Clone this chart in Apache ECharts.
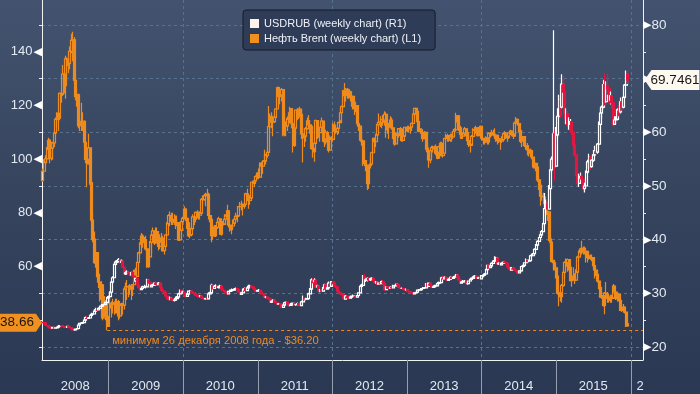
<!DOCTYPE html>
<html><head><meta charset="utf-8">
<script src="https://cdn.jsdelivr.net/npm/echarts@6/dist/echarts.min.js"></script>
<style>html,body{margin:0;padding:0;background:#34425e;}#c{width:700px;height:394px;}</style>
</head><body><div id="c"></div>
<script>
// ---- DATA: weekly candles, each row [close, high, low]; weeks start Fri 2008-02-15 ----
const brentName = 'Нефть Brent (weekly chart) (L1)';
const rubName = 'USDRUB (weekly chart) (R1)';
const brentOpen0 = 92.0;
const rubOpen0 = 24.6;
const brent2008 = [[95.5,96.5,91.5],[98.8,100.0,94.5],[100.1,101.5,97.8],[103.6,104.5,98.5],[107.0,108.0,102.5],[100.4,107.5,98.5],[104.1,106.5,99.5],[106.1,106.5,99.8],[109.8,110.5,104.5],[114.8,115.5,109.0],[117.1,117.5,112.0],[115.3,117.0,110.5],[124.5,124.8,114.5],[124.1,126.0,121.0],[131.7,135.1,123.5],[127.4,132.5,124.5],[137.4,138.5,122.5],[134.9,138.0,131.0],[135.7,137.5,132.0],[140.2,142.0,133.5],[144.3,146.7,139.5],[144.5,147.5,136.5],[129.4,145.5,128.0],[123.3,131.5,122.0],[124.0,126.5,119.5],[112.5,124.5,111.5],[113.8,115.5,110.5],[114.1,121.0,110.5],[114.1,117.5,110.5],[106.3,114.5,104.5],[99.9,106.5,98.5],[98.3,100.5,89.5],[104.2,109.5,98.0],[91.3,103.5,90.5],[77.3,91.0,76.5],[70.2,80.5,69.0],[61.4,73.0,61.0],[65.2,68.5,59.5],[57.1,65.0,56.0],[54.2,59.0,52.0],[47.9,54.5,47.0],[53.2,54.5,47.5],[40.8,53.0,40.0],[46.2,49.0,40.5],[41.4,47.5,40.0],[37.7,42.5,36.2]];
const brent2009 = [[46.3,47.0,37.5],[44.7,50.5,43.5],[46.1,47.0,41.0],[46.5,48.0,42.5],[45.9,47.0,42.0],[46.6,48.0,42.5],[46.9,48.0,42.5],[41.6,47.5,40.0],[46.0,46.5,40.5],[45.5,46.5,41.5],[45.6,46.5,42.0],[51.6,52.0,44.0],[52.4,54.0,50.5],[52.5,55.0,47.5],[52.5,53.0,48.5],[52.7,53.5,49.5],[51.6,53.5,47.5],[53.2,53.5,49.0],[58.6,58.8,53.0],[56.3,59.5,55.0],[61.5,61.8,56.0],[65.1,65.5,59.5],[68.4,69.0,64.0],[71.3,72.5,67.5],[69.0,72.0,67.0],[70.0,71.0,67.0],[66.6,71.5,66.0],[59.9,66.5,59.5],[63.6,64.5,59.5],[69.0,69.5,63.5],[71.7,72.0,65.0],[73.3,74.5,70.5],[68.8,73.5,68.0],[73.0,74.5,68.5],[71.8,74.5,70.5],[67.5,71.5,66.0],[69.2,71.5,66.5],[70.6,72.5,68.0],[65.9,71.5,65.5],[67.5,68.5,64.5],[71.8,72.0,66.0],[76.0,76.5,71.0],[79.0,79.5,75.5],[77.0,80.5,75.0],[77.4,80.0,75.5],[76.4,80.0,75.5],[77.5,79.5,75.5],[76.1,79.0,74.0],[76.4,79.0,75.0],[69.9,76.5,69.5],[73.5,75.0,69.5],[76.7,77.5,73.0]];
const brent2010 = [[77.9,78.5,76.0],[81.4,82.5,77.5],[77.9,81.5,77.0],[74.5,78.5,74.0],[71.5,75.5,71.0],[71.9,76.5,70.5],[74.1,75.0,71.5],[78.5,79.5,73.5],[77.6,79.0,75.5],[80.2,80.5,76.5],[79.0,81.0,78.0],[79.1,80.5,77.5],[79.9,80.5,77.5],[85.0,85.5,80.0],[84.9,86.5,83.0],[86.4,87.0,84.5],[86.9,87.5,82.5],[86.9,89.0,85.0],[79.0,87.5,77.5],[77.6,81.5,76.5],[71.5,77.5,69.0],[74.7,76.0,70.0],[71.5,75.5,71.0],[74.6,75.5,71.0],[76.5,78.0,74.0],[77.8,78.5,75.0],[72.1,78.0,72.0],[75.5,76.0,71.5],[75.9,77.0,74.5],[77.6,79.5,75.5],[78.8,79.5,75.5],[80.7,83.0,78.0],[75.4,81.0,74.5],[73.7,77.5,73.0],[75.1,75.5,72.0],[76.2,77.5,74.0],[77.6,78.5,75.5],[78.7,80.0,76.5],[78.9,79.5,76.5],[82.3,82.5,78.5],[83.2,84.0,80.5],[83.2,84.5,81.0],[82.5,83.5,79.0],[83.2,84.0,81.5],[87.1,87.5,83.0],[86.3,89.0,85.5],[84.6,86.5,81.5],[85.6,86.5,83.0],[91.4,91.5,85.0],[91.0,92.0,89.5],[91.9,92.5,89.5],[93.5,94.0,91.5],[94.8,95.0,92.5]];
const brent2011 = [[93.3,96.5,92.5],[98.4,98.8,93.0],[97.4,99.0,96.0],[99.4,99.5,94.5],[99.3,103.5,99.0],[101.4,102.0,98.0],[102.5,104.0,100.5],[112.1,119.8,102.5],[116.0,117.0,110.5],[113.8,117.5,111.5],[114.0,116.0,108.5],[115.6,117.0,113.5],[118.7,119.0,115.5],[126.7,127.0,118.5],[123.4,127.0,119.5],[123.9,124.5,120.5],[125.9,126.5,121.5],[109.1,126.0,108.5],[113.8,117.5,108.5],[112.4,114.0,108.5],[115.1,116.0,110.5],[114.8,117.5,113.0],[118.8,119.5,113.5],[113.2,119.0,111.5],[105.1,114.0,102.5],[111.6,112.0,104.5],[118.3,118.5,111.0],[117.2,119.0,114.5],[118.7,119.0,115.0],[116.7,119.5,115.5],[109.4,118.5,107.5],[108.0,110.5,98.8],[108.6,111.5,104.5],[111.4,112.0,106.5],[114.3,115.5,111.0],[112.8,116.5,111.5],[112.2,114.5,109.5],[104.0,112.5,103.5],[102.8,106.5,100.5],[105.9,106.5,99.0],[114.4,114.8,105.5],[110.0,114.5,107.5],[109.9,112.5,108.0],[111.9,112.0,106.5],[114.2,115.5,110.5],[107.6,114.0,106.5],[106.4,108.5,104.5],[109.9,111.0,105.5],[108.6,110.5,106.5],[103.4,109.0,102.5],[107.9,108.5,103.5],[107.4,108.5,106.0]];
const brent2012 = [[112.7,113.5,106.5],[110.4,114.0,109.5],[110.3,112.0,109.5],[111.5,111.8,109.0],[113.6,114.0,109.5],[117.3,119.0,114.5],[119.6,120.0,117.0],[125.5,125.8,119.5],[123.7,128.4,121.5],[126.0,126.5,121.5],[125.8,126.5,122.5],[125.1,126.0,122.5],[122.9,125.5,121.5],[123.4,124.0,119.5],[121.2,121.8,118.5],[118.8,121.0,116.5],[120.0,120.5,117.5],[113.2,120.0,112.5],[112.3,114.0,110.5],[107.1,112.5,106.5],[106.8,109.5,105.0],[98.4,107.0,97.5],[99.5,102.0,97.5],[97.6,99.0,95.5],[90.9,97.5,88.5],[97.8,98.0,89.0],[98.2,101.0,96.5],[102.4,102.8,97.5],[107.8,108.0,102.5],[106.5,108.0,102.5],[109.0,109.5,104.5],[112.9,113.5,109.0],[113.7,117.0,112.5],[113.6,116.0,112.0],[114.6,115.0,111.5],[113.8,116.5,112.5],[116.7,117.9,112.5],[111.0,117.5,108.0],[112.4,113.0,109.5],[112.0,113.5,107.5],[114.6,116.0,111.5],[111.7,115.5,111.0],[109.6,112.0,107.5],[105.7,110.0,105.0],[109.4,110.0,105.5],[108.9,110.5,106.5],[111.4,111.5,108.0],[111.2,112.0,109.5],[107.0,111.5,106.5],[108.6,109.5,106.5],[111.9,112.0,108.5],[110.6,112.0,110.0]];
const brent2013 = [[111.3,112.5,110.0],[111.6,112.5,110.0],[111.9,112.5,109.5],[113.3,113.8,110.5],[116.8,117.0,112.5],[118.9,119.2,115.5],[117.7,119.0,116.5],[114.0,118.5,113.5],[110.4,114.5,110.0],[110.9,111.5,109.5],[109.8,111.5,107.5],[107.6,110.5,106.5],[110.0,110.5,107.5],[104.1,110.0,103.5],[102.8,106.0,102.5],[99.7,103.0,96.8],[103.2,103.5,98.5],[104.2,105.0,100.5],[103.9,105.0,102.5],[104.6,105.0,102.0],[102.6,105.5,101.5],[100.4,103.0,100.0],[104.6,105.0,100.5],[105.9,106.5,102.5],[101.3,106.5,101.0],[102.2,103.0,100.5],[107.7,108.0,102.0],[108.8,109.5,107.0],[108.1,109.5,106.5],[107.2,108.5,106.5],[108.9,109.5,106.5],[108.3,109.5,106.5],[110.4,110.5,107.5],[111.0,111.5,108.5],[114.0,117.3,110.5],[116.1,116.5,113.0],[111.7,115.5,110.5],[109.2,112.5,107.5],[108.6,109.5,107.5],[109.5,110.0,107.5],[111.3,112.0,108.5],[109.9,111.5,108.5],[106.9,110.0,106.5],[105.5,109.0,104.5],[105.1,106.5,102.5],[108.5,109.0,105.0],[111.0,111.5,107.5],[110.8,112.0,109.5],[111.6,112.5,109.5],[108.8,112.0,108.5],[111.8,112.0,108.5],[112.2,112.5,110.5]];
const brent2014 = [[107.8,112.5,107.0],[107.2,108.0,105.5],[106.5,107.5,105.5],[107.9,108.5,106.0],[106.4,108.0,105.5],[109.6,110.0,105.5],[109.1,110.0,108.0],[109.9,111.0,108.5],[109.1,111.0,108.5],[108.8,111.5,107.5],[108.9,109.5,106.5],[106.9,108.5,105.5],[107.6,108.5,106.0],[106.7,107.5,103.5],[107.3,108.5,106.0],[109.5,110.0,106.5],[109.6,110.5,108.0],[108.6,110.0,107.5],[108.0,108.5,106.5],[109.8,110.0,107.5],[110.5,111.0,109.0],[109.4,110.5,108.5],[108.6,109.5,107.5],[113.4,114.0,108.5],[114.8,115.7,112.5],[113.3,115.0,112.5],[110.6,113.5,110.0],[106.7,110.5,106.0],[107.2,108.5,104.5],[108.4,108.5,106.5],[105.0,108.5,104.5],[105.0,106.5,103.5],[103.5,106.0,101.5],[102.3,103.5,101.0],[103.2,104.0,101.5],[100.8,103.5,100.0],[97.1,101.0,96.5],[98.4,99.5,96.5],[97.0,98.5,95.5],[92.3,97.5,91.5],[90.2,93.5,88.5],[86.2,91.0,82.6],[86.1,87.5,84.5],[85.9,87.5,84.0],[83.4,86.0,82.0],[79.4,83.5,77.5],[80.4,81.0,77.0],[70.2,80.5,69.5],[69.1,71.5,67.5],[61.9,69.5,61.5],[61.4,62.5,58.5],[59.5,62.5,58.5]];
const brent2015 = [[56.4,60.5,55.5],[50.1,56.5,49.5],[50.2,51.0,45.2],[48.8,50.5,47.0],[53.0,53.5,46.5],[57.8,59.0,52.5],[61.5,62.0,55.5],[60.2,63.0,58.5],[62.6,63.0,58.0],[59.7,62.5,58.5],[54.7,60.5,54.5],[55.3,56.5,52.5],[56.4,59.7,55.0],[54.9,57.5,53.5],[57.9,59.0,54.5],[63.5,64.0,57.0],[65.3,66.0,62.0],[66.5,67.0,64.5],[65.4,69.6,64.5],[66.8,67.5,64.5],[65.4,67.5,64.5],[65.6,66.0,61.5],[63.3,65.5,61.5],[63.9,65.5,62.5],[63.0,64.5,62.5],[63.3,64.5,62.0],[60.3,63.5,59.5],[58.7,60.5,55.5],[57.1,59.5,56.5],[54.6,57.0,54.0],[52.2,55.0,51.5],[48.6,52.5,48.5],[49.2,50.5,48.0],[45.5,49.5,45.0],[50.1,50.5,42.2],[49.6,54.2,48.5],[48.1,50.5,46.5],[47.5,49.5,46.5],[48.6,49.5,46.5],[48.1,49.5,46.5],[52.7,53.5,48.5],[50.5,52.5,48.5],[48.0,50.5,47.5],[49.6,50.0,47.0],[47.4,50.0,47.0],[43.6,47.5,43.5],[44.7,45.5,43.0],[44.9,46.0,44.5],[43.0,45.0,42.5],[37.9,43.5,37.5],[38.66,39.5,37.6]];

const rub2008 = [[24.55,24.65,24.45],[24.50,24.60,24.40],[24.05,24.50,24.00],[24.00,24.15,23.90],[23.75,24.05,23.65],[23.55,23.80,23.50],[23.50,23.65,23.40],[23.65,23.75,23.45],[23.50,23.70,23.40],[23.55,23.65,23.40],[23.70,23.80,23.50],[23.85,23.95,23.65],[24.00,24.10,23.80],[23.95,24.10,23.85],[23.80,24.00,23.70],[23.70,23.85,23.60],[23.65,23.80,23.55],[23.85,23.95,23.60],[23.70,23.90,23.60],[23.60,23.75,23.50],[23.45,23.65,23.40],[23.20,23.50,23.15],[23.20,23.35,23.10],[23.35,23.45,23.15],[23.45,23.55,23.30],[24.10,24.20,23.40],[24.40,24.50,24.00],[24.45,24.60,24.30],[24.55,24.70,24.40],[25.00,25.10,24.50],[25.50,25.70,24.90],[25.35,25.85,25.20],[25.40,25.60,25.20],[25.90,26.00,25.40],[26.10,26.40,25.80],[26.15,26.30,25.90],[26.70,26.90,26.10],[26.95,27.30,26.60],[26.90,27.10,26.70],[27.20,27.40,26.90],[27.60,27.75,27.20],[27.60,27.85,27.50],[27.90,28.00,27.60],[27.95,28.10,27.80],[28.30,28.45,27.90],[29.15,29.30,28.30]];
const rub2009 = [[29.40,29.60,29.10],[30.20,30.40,29.40],[32.10,32.30,30.30],[32.90,33.20,32.00],[35.40,35.60,32.90],[35.80,36.10,35.20],[35.90,36.20,35.40],[36.30,36.60,35.80],[35.75,36.40,35.50],[36.00,36.30,35.60],[34.90,36.00,34.70],[33.60,34.90,33.50],[33.80,34.10,33.40],[33.90,34.30,33.50],[33.80,34.10,33.50],[33.40,33.90,33.20],[33.85,34.00,33.30],[33.20,33.90,33.10],[32.30,33.30,32.20],[32.80,32.90,32.10],[31.60,32.90,31.50],[31.10,31.70,30.90],[30.70,31.20,30.50],[30.90,31.10,30.60],[31.20,31.40,30.80],[31.20,31.60,31.00],[31.20,31.40,30.90],[32.50,32.70,31.20],[32.10,32.60,31.80],[31.20,32.10,31.10],[31.50,31.70,31.10],[31.50,31.80,31.20],[31.90,32.10,31.40],[31.70,32.20,31.50],[31.60,31.90,31.40],[31.90,32.10,31.50],[31.10,31.90,31.00],[30.60,31.10,30.40],[30.40,30.70,30.20],[30.15,30.50,29.90],[29.50,30.20,29.30],[29.10,29.50,28.90],[28.85,29.20,28.70],[29.10,29.40,28.70],[28.80,29.20,28.60],[28.70,28.90,28.50],[28.75,28.90,28.50],[29.00,29.40,28.60],[29.30,29.50,29.00],[29.90,30.10,29.30],[30.50,30.70,29.90],[30.20,30.70,30.10]];
const rub2010 = [[30.25,30.50,29.90],[29.55,30.30,29.40],[29.45,29.70,29.20],[29.85,30.00,29.40],[30.40,30.50,29.80],[30.40,30.60,30.10],[30.20,30.50,30.00],[30.10,30.40,29.90],[29.95,30.20,29.80],[29.65,30.00,29.50],[29.45,29.70,29.30],[29.40,29.60,29.20],[29.45,29.70,29.30],[29.20,29.50,29.10],[29.05,29.30,28.90],[28.95,29.20,28.80],[29.00,29.20,28.80],[28.95,29.20,28.80],[29.90,30.20,28.90],[30.10,30.30,29.60],[31.50,31.80,30.20],[30.90,31.60,30.70],[31.30,31.50,30.80],[31.40,31.70,31.10],[31.10,31.40,30.90],[31.20,31.40,30.90],[31.30,31.60,30.90],[30.80,31.30,30.70],[30.55,30.90,30.40],[30.35,30.60,30.20],[30.20,30.50,30.00],[29.90,30.30,29.80],[30.35,30.50,29.80],[30.50,30.70,30.20],[30.60,30.90,30.40],[30.60,30.80,30.40],[30.80,30.90,30.50],[30.90,31.10,30.70],[30.70,31.00,30.50],[30.20,30.70,30.10],[29.80,30.30,29.70],[30.10,30.30,29.70],[30.70,30.90,30.00],[30.90,31.10,30.60],[30.50,31.00,30.40],[31.00,31.20,30.40],[31.30,31.60,30.90],[31.30,31.60,31.10],[31.20,31.50,31.00],[30.90,31.30,30.80],[30.65,31.00,30.50],[30.40,30.70,30.30],[30.50,30.60,30.30]];
const rub2011 = [[30.55,30.80,30.30],[30.20,30.60,30.10],[29.90,30.20,29.80],[29.85,30.00,29.70],[29.30,29.90,29.20],[29.30,29.50,29.10],[29.10,29.40,29.00],[28.95,29.20,28.80],[28.35,28.90,28.20],[28.50,28.70,28.20],[28.70,28.90,28.40],[28.45,28.70,28.30],[28.25,28.50,28.10],[28.00,28.30,27.90],[28.05,28.20,27.90],[27.95,28.10,27.80],[27.40,28.00,27.30],[27.80,27.90,27.30],[28.25,28.40,27.70],[28.30,28.50,28.10],[28.10,28.40,28.00],[27.75,28.10,27.60],[27.80,27.90,27.60],[28.10,28.30,27.80],[28.15,28.30,28.00],[27.90,28.20,27.80],[27.90,28.00,27.70],[28.10,28.30,27.90],[27.95,28.20,27.80],[27.70,28.00,27.60],[28.40,28.60,27.70],[29.00,29.60,28.40],[28.90,29.20,28.70],[28.90,29.20,28.70],[29.00,29.20,28.80],[29.90,30.10,29.00],[30.80,31.00,29.90],[32.50,32.80,30.70],[32.20,32.80,31.90],[32.40,32.80,32.00],[31.20,32.40,31.00],[31.40,31.60,31.00],[30.40,31.50,30.30],[30.50,30.80,30.20],[30.40,30.80,30.20],[31.00,31.20,30.40],[31.60,31.80,30.90],[30.80,31.60,30.70],[31.00,31.30,30.70],[31.90,32.20,31.00],[31.30,32.00,31.20],[32.20,32.30,31.20]];
const rub2012 = [[31.90,32.30,31.70],[31.40,32.00,31.20],[31.20,31.50,31.00],[30.40,31.30,30.30],[30.10,30.50,29.90],[29.90,30.20,29.70],[29.80,30.10,29.60],[29.20,29.90,29.00],[28.90,29.30,28.80],[29.50,29.70,28.90],[29.20,29.60,29.10],[29.10,29.30,28.90],[29.30,29.50,29.00],[29.50,29.60,29.10],[29.50,29.80,29.30],[29.50,29.70,29.30],[29.30,29.60,29.20],[29.60,29.70,29.30],[30.10,30.20,29.60],[31.30,31.60,30.10],[31.50,31.80,31.10],[33.10,33.40,31.50],[32.40,33.60,32.30],[32.50,32.80,32.10],[32.80,33.00,32.20],[32.50,33.10,32.30],[32.70,32.90,32.30],[32.80,33.00,32.50],[32.30,32.80,32.20],[32.00,32.50,31.90],[32.10,32.30,31.80],[31.70,32.10,31.60],[31.90,32.00,31.60],[31.80,32.00,31.60],[32.20,32.40,31.80],[31.80,32.50,31.70],[30.70,31.80,30.50],[31.20,31.30,30.60],[31.10,31.30,30.90],[30.90,31.30,30.80],[31.10,31.30,30.80],[31.00,31.20,30.80],[31.40,31.60,31.00],[31.40,31.60,31.20],[31.70,31.80,31.30],[31.60,31.80,31.40],[31.10,31.60,31.00],[30.90,31.20,30.80],[30.90,31.10,30.80],[30.80,31.00,30.60],[30.70,30.90,30.50],[30.70,30.90,30.50]];
const rub2013 = [[30.40,30.70,30.30],[30.30,30.50,30.10],[30.20,30.40,30.10],[30.10,30.30,29.90],[29.90,30.20,29.80],[30.10,30.20,29.90],[30.20,30.30,30.00],[30.60,30.70,30.10],[30.60,30.80,30.40],[30.70,30.80,30.50],[30.90,31.00,30.60],[31.00,31.20,30.80],[31.00,31.20,30.90],[31.80,31.90,31.00],[31.30,31.80,31.20],[31.90,32.00,31.20],[31.50,31.90,31.40],[31.10,31.60,31.00],[31.20,31.30,31.00],[31.40,31.60,31.10],[31.40,31.60,31.20],[31.80,32.00,31.30],[32.00,32.20,31.70],[32.00,32.20,31.80],[32.90,33.10,32.00],[32.70,33.30,32.60],[33.00,33.20,32.70],[32.50,33.20,32.40],[32.40,32.60,32.30],[32.60,32.80,32.30],[33.00,33.20,32.50],[32.80,33.10,32.70],[33.00,33.10,32.70],[33.10,33.30,32.90],[33.40,33.60,33.00],[33.10,33.50,32.90],[32.50,33.10,32.40],[31.90,32.50,31.80],[32.10,32.30,31.90],[32.30,32.50,32.00],[32.30,32.50,32.10],[31.80,32.30,31.70],[31.80,32.00,31.60],[32.30,32.40,31.80],[32.60,32.80,32.20],[32.80,33.00,32.50],[33.00,33.20,32.70],[33.20,33.40,32.90],[33.00,33.30,32.90],[32.80,33.10,32.70],[32.90,33.10,32.70],[32.70,33.00,32.60]];
const rub2014 = [[33.30,33.40,32.70],[33.40,33.50,33.00],[33.60,33.80,33.30],[34.40,34.60,33.60],[35.20,35.30,34.40],[34.80,35.40,34.60],[35.10,35.40,34.70],[35.60,35.80,35.00],[36.00,36.20,35.50],[36.00,36.90,35.80],[36.60,36.80,35.90],[35.50,36.60,35.40],[35.60,35.80,35.30],[35.30,35.70,35.10],[35.60,35.80,35.20],[35.80,36.00,35.50],[35.70,36.10,35.60],[35.60,35.90,35.40],[35.00,35.70,34.90],[34.70,35.00,34.50],[34.30,34.80,34.20],[34.80,34.90,34.20],[34.50,35.00,34.40],[34.30,34.60,34.20],[34.10,34.40,34.00],[33.80,34.20,33.60],[34.20,34.30,33.70],[34.20,34.40,33.90],[35.00,35.20,34.10],[35.20,35.40,34.80],[35.70,35.80,35.20],[36.20,36.50,35.60],[36.00,36.30,35.80],[36.10,36.30,35.80],[37.00,37.20,36.00],[37.00,37.40,36.80],[37.40,37.60,36.90],[38.20,38.40,37.30],[39.00,39.20,38.10],[39.70,39.90,39.00],[40.40,40.50,39.60],[40.90,41.20,40.30],[41.50,41.80,40.80],[43.00,43.40,41.50],[45.80,48.70,42.90],[46.80,47.50,44.90],[45.70,47.20,45.50],[49.50,50.20,45.60],[53.00,54.90,49.50],[55.00,55.50,52.50],[59.70,79.00,55.00],[53.70,60.50,51.00]];
const rub2015 = [[59.50,61.00,53.50],[63.00,64.50,59.00],[66.00,67.00,62.50],[64.70,66.50,62.70],[69.00,70.80,64.50],[67.50,70.50,65.00],[63.50,67.50,62.50],[63.50,64.50,61.50],[61.50,64.00,61.00],[61.50,62.80,60.50],[62.00,62.50,60.20],[60.00,62.00,59.50],[57.60,60.00,57.00],[55.80,57.50,55.50],[52.30,55.80,51.80],[50.50,52.50,49.80],[51.50,52.30,49.80],[51.80,52.50,50.50],[51.30,52.50,50.70],[49.50,51.30,48.80],[50.00,50.60,48.80],[52.60,52.90,49.70],[54.50,54.90,52.30],[55.40,56.00,53.20],[53.60,55.60,53.00],[54.80,55.00,53.40],[55.80,56.00,54.50],[56.60,57.50,55.40],[56.30,57.00,55.90],[57.80,58.00,56.00],[61.50,62.00,57.60],[63.60,64.50,61.30],[64.70,65.00,62.60],[68.90,69.80,64.50],[65.70,71.00,65.00],[68.70,69.50,65.50],[68.10,70.90,67.00],[66.00,68.00,65.50],[66.80,67.60,65.20],[65.50,67.00,64.50],[61.50,65.60,61.00],[62.30,63.00,61.50],[62.40,63.00,61.50],[64.20,64.50,62.30],[63.80,65.00,63.00],[65.70,66.50,63.50],[64.70,66.00,64.00],[66.50,66.80,64.50],[68.80,69.00,66.40],[70.90,71.50,68.70],[69.7461,71.50,69.00]];

const yearLabels = [2008, 2009, 2010, 2011, 2012, 2013, 2014, 2015, 2016];
const leftTicks = [60, 80, 100, 120, 140];
const brentLastLabel = '38.66';
const rubLastLabel = '69.7461';
const minValue = 36.20;
const minDate = '2008-12-26';
const minText = 'минимум 26 декабря 2008 года - $36.20';

// ---- CHART ----
const FONT = '"Liberation Sans", Arial, sans-serif';
const GRID_COLOR = '#56728e';
const X_MIN = Date.UTC(2008, 1, 11), X_MAX = Date.UTC(2016, 2, 2);
const START = Date.UTC(2008, 1, 15), WEEK = 7 * 86400000;

function build(years, open0) {
  const rows = [].concat(...years);
  let prev = open0;
  return rows.map((r, i) => { const it = [START + i * WEEK, prev, r[0], r[2], r[1]]; prev = r[0]; return it; });
}
const brentData = build([brent2008, brent2009, brent2010, brent2011, brent2012, brent2013, brent2014, brent2015], brentOpen0);
const rubData = build([rub2008, rub2009, rub2010, rub2011, rub2012, rub2013, rub2014, rub2015], rubOpen0);
const brentLast = brentData[brentData.length - 1][2];
const rubLast = rubData[rubData.length - 1][2];

function renderFrame(params, api) {
  const yr = api.value(2);
  const ys = Date.UTC(yr, 0, 1), ye = Date.UTC(yr + 1, 0, 1);
  const s = Math.max(ys, X_MIN), e = Math.min(ye, X_MAX);
  const pb = api.coord([s, 0]), pe = api.coord([e, 0]), pt = api.coord([s, 1]);
  const bx = Math.round(pb[0]) + 0.5;
  const kids = [];
  const bandH = 34;
  if (ys > X_MIN) {
    kids.push({type: 'line', shape: {x1: bx, y1: pb[1], x2: bx, y2: pb[1] + bandH}, style: {stroke: '#959fad', lineWidth: 1}});
    if (yr % 2 === 0) kids.push({type: 'line', shape: {x1: bx, y1: pt[1], x2: bx, y2: pb[1]}, style: {stroke: GRID_COLOR, lineWidth: 1, lineDash: [3, 3]}});
  }
  const w = pe[0] - pb[0];
  const narrow = w < 40;
  kids.push({type: 'group', clipPath: {type: 'rect', shape: {x: pb[0], y: pb[1], width: w + 1, height: bandH}},
    children: [{type: 'text', x: narrow ? pb[0] + 6 : (pb[0] + pe[0]) / 2, y: pb[1] + 26,
      style: {text: String(yr), fill: '#e2e9f2', font: '13px ' + FONT, textAlign: narrow ? 'left' : 'center', textVerticalAlign: 'middle', align: narrow ? 'left' : 'center', verticalAlign: 'middle'}}]});
  return {type: 'group', children: kids};
}

const chart = echarts.init(document.getElementById('c'), null, {renderer: 'canvas'});
chart.setOption({
  animation: false,
  backgroundColor: {type: 'linear', x: 0, y: 0, x2: 0, y2: 1, colorStops: [
    {offset: 0, color: '#43536f'}, {offset: 0.45, color: '#37455f'}, {offset: 1, color: '#2b3853'}]},
  legend: {
    show: true, orient: 'vertical', left: 243, top: 10, selectedMode: false,
    backgroundColor: '#2f3c58', borderColor: '#151b27', borderWidth: 1, borderRadius: 3,
    padding: [8, 14, 6, 7], itemGap: 4, itemWidth: 9, itemHeight: 9,
    textStyle: {color: '#eef2f7', fontSize: 11, fontFamily: FONT},
    data: [
      {name: rubName, icon: 'rect', itemStyle: {color: '#fdf3ea', borderWidth: 0}},
      {name: brentName, icon: 'rect', itemStyle: {color: '#f0901e', borderWidth: 0}}
    ]
  },
  grid: [
    {left: 42, right: 57, top: 25, bottom: 47, outerBoundsMode: 'none'},
    {left: 42, right: 57, top: 0, bottom: 34, outerBoundsMode: 'none'}
  ],
  xAxis: [
    {type: 'time', gridIndex: 0, min: X_MIN, max: X_MAX, show: false},
    {type: 'time', gridIndex: 1, min: X_MIN, max: X_MAX,
      axisLine: {show: true, onZero: false, lineStyle: {color: '#f2f2f2', width: 1}},
      axisTick: {show: false}, axisLabel: {show: false}, splitLine: {show: false}}
  ],
  yAxis: [
    {type: 'value', gridIndex: 0, position: 'left', min: 30, max: 150, interval: 10,
      axisLine: {show: false}, splitLine: {show: false},
      axisTick: {show: true, length: 3, lineStyle: {color: '#e6ebf2'}},
      axisLabel: {margin: 0, formatter: v => leftTicks.indexOf(v) >= 0 ? '{n|' + v + '}{t|◀}' : '',
        rich: {n: {color: '#e3eaf3', fontSize: 13, fontFamily: FONT, padding: [0, 1, 0, 0]}, t: {color: '#ffffff', fontSize: 11, fontFamily: 'DejaVu Sans'}}}},
    {type: 'value', gridIndex: 0, position: 'right', min: 20, max: 80, interval: 10,
      axisLine: {show: false},
      splitLine: {show: true, lineStyle: {color: GRID_COLOR, type: [3, 3], width: 1}},
      axisTick: {show: true, length: 3, lineStyle: {color: '#e6ebf2'}},
      minorTick: {show: true, splitNumber: 2, length: 3, lineStyle: {color: '#e6ebf2'}},
      axisLabel: {margin: 0, formatter: v => '{t|▶}{n|' + v + '}',
        rich: {n: {color: '#e3eaf3', fontSize: 13.5, fontFamily: FONT}, t: {color: '#ffffff', fontSize: 11, fontFamily: 'DejaVu Sans'}}}},
    {type: 'value', gridIndex: 1, position: 'left', min: 0, max: 1,
      axisLine: {show: true, lineStyle: {color: '#f2f2f2', width: 1}}, axisTick: {show: false}, axisLabel: {show: false}, splitLine: {show: false}},
    {type: 'value', gridIndex: 1, position: 'right', min: 0, max: 1,
      axisLine: {show: true, lineStyle: {color: '#f2f2f2', width: 1}}, axisTick: {show: false}, axisLabel: {show: false}, splitLine: {show: false}}
  ],
  series: [
    {type: 'custom', xAxisIndex: 1, yAxisIndex: 2, silent: true, clip: false, z: 1,
      data: yearLabels.map(y => [Date.UTC(y, 0, 1), 0, y]), encode: {x: 0, y: 1}, renderItem: renderFrame},
    {type: 'candlestick', name: brentName, xAxisIndex: 0, yAxisIndex: 0, data: brentData,
      encode: {x: 0, y: [1, 2, 3, 4]}, barWidth: 2.5, clip: false, silent: true,
      itemStyle: {color: 'rgba(0,0,0,0)', color0: '#ef8b1d', borderColor: '#ef8b1d', borderColor0: '#ef8b1d', borderWidth: 1.2},
      markLine: {silent: true, symbol: ['none', 'none'], animation: false,
        lineStyle: {color: '#f08c1e', type: [3, 3], width: 1},
        label: {show: true, position: 'insideStartBottom', formatter: minText, color: '#ee8a22', fontSize: 11.2, fontFamily: FONT},
        data: [[{coord: [minDate, minValue]}, {coord: [X_MAX, minValue]}]]},
      markPoint: {silent: true, animation: false,
        symbol: 'path://M0,0L38,0L44,9L38,18L0,18Z', symbolSize: [44, 18], symbolOffset: [-22, -1],
        itemStyle: {color: '#f0901e'},
        label: {show: true, position: 'inside', formatter: brentLastLabel, color: '#161616', fontSize: 13.5, fontFamily: FONT, offset: [-3, 0]},
        data: [{coord: [X_MIN, brentLast]}]}
    },
    {type: 'candlestick', name: rubName, xAxisIndex: 0, yAxisIndex: 1, data: rubData,
      encode: {x: 0, y: [1, 2, 3, 4]}, barWidth: 2.5, clip: false, silent: true,
      itemStyle: {color: 'rgba(0,0,0,0)', color0: '#e3163f', borderColor: '#ffffff', borderColor0: '#e3163f', borderWidth: 1.2},
      markPoint: {silent: true, animation: false,
        symbol: 'path://M0,10L7,0L55,0L55,20L7,20Z', symbolSize: [55, 20], symbolOffset: [29, 0],
        itemStyle: {color: '#fdf8f0'},
        label: {show: true, position: 'inside', formatter: rubLastLabel, color: '#161616', fontSize: 13.5, fontFamily: FONT, offset: [3, 0]},
        data: [{coord: [X_MAX, rubLast]}]}
    }
  ]
});
</script></body></html>
